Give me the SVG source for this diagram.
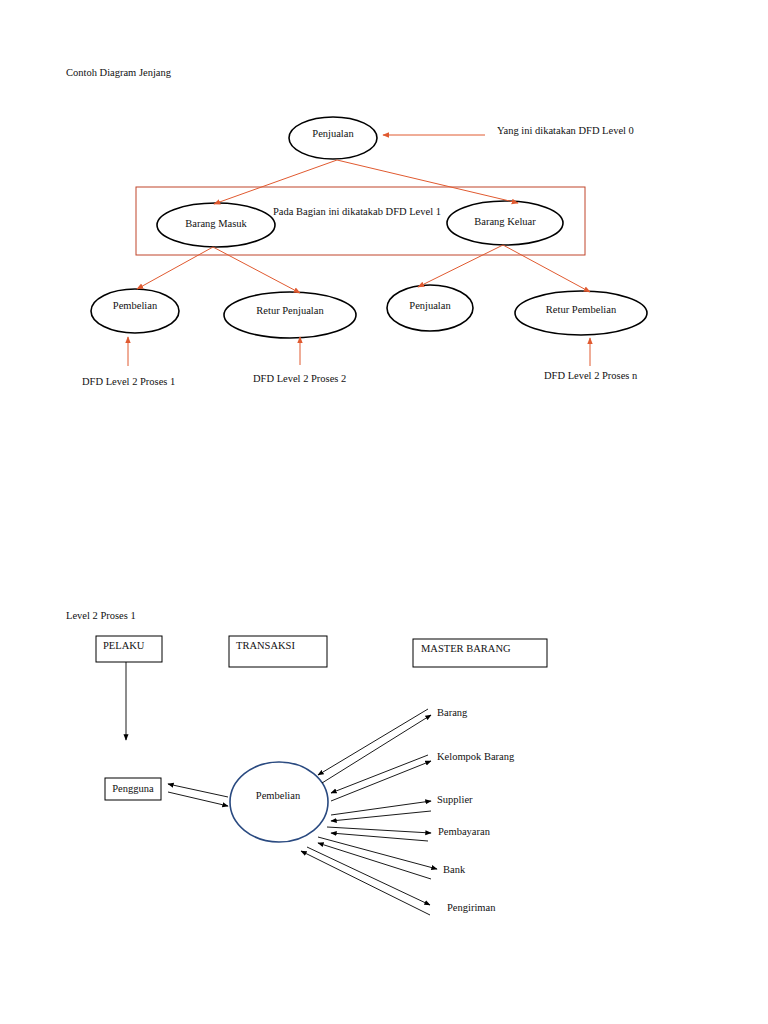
<svg xmlns="http://www.w3.org/2000/svg" width="768" height="1024" viewBox="0 0 768 1024">
<style>
text{font-family:"Liberation Serif",serif;font-size:10.5px;fill:#111}
.m{text-anchor:middle}
.e{fill:none;stroke:#000;stroke-width:1.6}
.r{stroke:#e05a30;stroke-width:1;fill:none}
.k{stroke:#000;stroke-width:0.9;fill:none}
.b{fill:none;stroke:#000;stroke-width:1}
</style>
<defs>
<marker id="ar" viewBox="0 0 10 10" refX="9" refY="5" markerWidth="7" markerHeight="7" orient="auto"><path d="M0,1 L10,5 L0,9z" fill="#e05a30"/></marker>
<marker id="ak" viewBox="0 0 10 10" refX="9" refY="5" markerWidth="7" markerHeight="7" orient="auto"><path d="M0,1 L10,5 L0,9z" fill="#000"/></marker>
</defs>
<rect width="768" height="1024" fill="#fff"/>
<text x="66" y="76">Contoh Diagram Jenjang</text>
<rect x="136" y="187" width="449" height="68" fill="none" stroke="#c0442a" stroke-width="1"/>
<text x="273" y="215">Pada Bagian ini dikatakab DFD Level 1</text>
<g id="n-penjualan0"><ellipse class="e" cx="333" cy="138" rx="44" ry="21"/><text class="m" x="333" y="137">Penjualan</text></g>
<g id="n-barangmasuk"><ellipse class="e" cx="216" cy="225" rx="59" ry="22"/><text class="m" x="216" y="227">Barang Masuk</text></g>
<g id="n-barangkeluar"><ellipse class="e" cx="505" cy="223" rx="58" ry="22"/><text class="m" x="505" y="225">Barang Keluar</text></g>
<g id="n-pembelian1"><ellipse class="e" cx="135" cy="311" rx="44" ry="22"/><text class="m" x="135" y="309">Pembelian</text></g>
<g id="n-returpenj"><ellipse class="e" cx="290" cy="315" rx="66" ry="23"/><text class="m" x="290" y="314">Retur Penjualan</text></g>
<g id="n-penjualan2"><ellipse class="e" cx="430" cy="308" rx="43" ry="23"/><text class="m" x="430" y="309">Penjualan</text></g>
<g id="n-returpemb"><ellipse class="e" cx="581" cy="313" rx="66" ry="22"/><text class="m" x="581" y="313">Retur Pembelian</text></g>
<text x="497" y="134">Yang ini dikatakan DFD Level 0</text>
<text x="82" y="385">DFD Level 2 Proses 1</text>
<text x="253" y="382">DFD Level 2 Proses 2</text>
<text x="544" y="379">DFD Level 2 Proses n</text>
<g id="connectors-top">
<line class="r" x1="485" y1="135" x2="383" y2="135" marker-end="url(#ar)"/>
<line class="r" x1="337" y1="160" x2="214" y2="204" marker-end="url(#ar)"/>
<line class="r" x1="337" y1="160" x2="518" y2="203" marker-end="url(#ar)"/>
<line class="r" x1="213" y1="247" x2="137" y2="289" marker-end="url(#ar)"/>
<line class="r" x1="213" y1="247" x2="300" y2="293" marker-end="url(#ar)"/>
<line class="r" x1="503" y1="245" x2="418" y2="287" marker-end="url(#ar)"/>
<line class="r" x1="503" y1="245" x2="590" y2="292" marker-end="url(#ar)"/>
<line class="r" x1="128" y1="366" x2="128" y2="337" marker-end="url(#ar)"/>
<line class="r" x1="300" y1="365" x2="300" y2="337" marker-end="url(#ar)"/>
<line class="r" x1="590" y1="366" x2="590" y2="338" marker-end="url(#ar)"/>
</g>
<text x="66" y="619">Level 2 Proses 1</text>
<g id="n-pelaku"><rect class="b" x="96" y="636" width="66" height="26"/><text x="103" y="649">PELAKU</text></g>
<g id="n-transaksi"><rect class="b" x="229" y="636" width="98" height="31"/><text x="236" y="649">TRANSAKSI</text></g>
<g id="n-master"><rect class="b" x="413" y="639" width="134" height="28"/><text x="421" y="652">MASTER BARANG</text></g>
<g id="n-pengguna"><rect class="b" x="105" y="778" width="56" height="22"/><text class="m" x="133" y="792">Pengguna</text></g>
<g id="n-pembelian"><ellipse cx="279" cy="802" rx="49" ry="40" fill="none" stroke="#2a4a80" stroke-width="1.6"/><text class="m" x="278" y="799">Pembelian</text></g>
<text x="437" y="716">Barang</text>
<text x="437" y="760">Kelompok Barang</text>
<text x="437" y="803">Supplier</text>
<text x="438" y="835">Pembayaran</text>
<text x="443" y="873">Bank</text>
<text x="447" y="911">Pengiriman</text>
<g id="connectors-bottom">
<line class="k" x1="126" y1="662" x2="126" y2="740" marker-end="url(#ak)"/>
<line class="k" x1="228" y1="797" x2="168" y2="784" marker-end="url(#ak)"/>
<line class="k" x1="168" y1="792" x2="228" y2="806" marker-end="url(#ak)"/>
<line class="k" x1="428" y1="709" x2="318" y2="775" marker-end="url(#ak)"/>
<line class="k" x1="322" y1="783" x2="431" y2="715" marker-end="url(#ak)"/>
<line class="k" x1="428" y1="755" x2="331" y2="793" marker-end="url(#ak)"/>
<line class="k" x1="331" y1="801" x2="431" y2="761" marker-end="url(#ak)"/>
<line class="k" x1="331" y1="815" x2="431" y2="801" marker-end="url(#ak)"/>
<line class="k" x1="431" y1="811" x2="331" y2="821" marker-end="url(#ak)"/>
<line class="k" x1="327" y1="827" x2="431" y2="833" marker-end="url(#ak)"/>
<line class="k" x1="428" y1="841" x2="331" y2="833" marker-end="url(#ak)"/>
<line class="k" x1="318" y1="837" x2="437" y2="869" marker-end="url(#ak)"/>
<line class="k" x1="431" y1="879" x2="318" y2="843" marker-end="url(#ak)"/>
<line class="k" x1="307" y1="847" x2="430" y2="905" marker-end="url(#ak)"/>
<line class="k" x1="430" y1="915" x2="301" y2="851" marker-end="url(#ak)"/>
</g>
</svg>
